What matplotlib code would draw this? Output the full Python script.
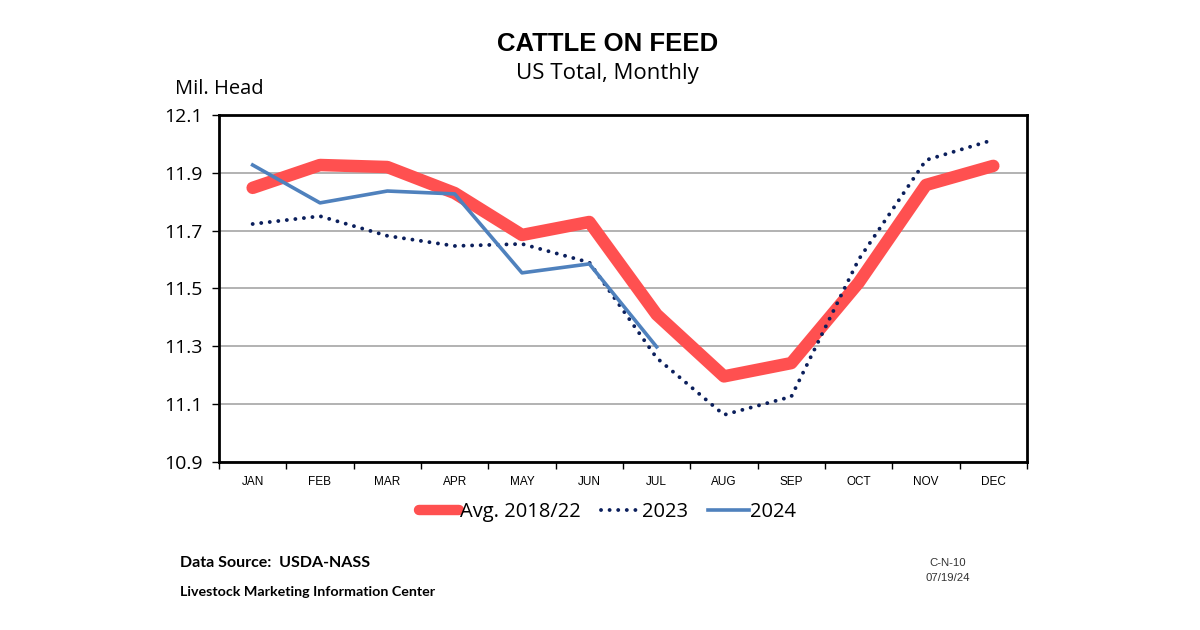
import matplotlib.pyplot as plt
import numpy as np

months = ["JAN", "FEB", "MAR", "APR", "MAY", "JUN",
          "JUL", "AUG", "SEP", "OCT", "NOV", "DEC"]
avg_1822 = [11.848, 11.927, 11.92, 11.83, 11.685, 11.73,
            11.41, 11.196, 11.242, 11.52, 11.858, 11.924]
y2023 = [11.723, 11.75, 11.682, 11.647, 11.654, 11.59,
         11.26, 11.063, 11.126, 11.6, 11.944, 12.014]
y2024 = [11.927, 11.796, 11.837, 11.827, 11.554, 11.585, 11.298]
yticks = [10.9, 11.1, 11.3, 11.5, 11.7, 11.9, 12.1]

plt.rcParams['font.family'] = ['Liberation Sans', 'DejaVu Sans']
sans = ['Open Sans', 'DejaVu Sans']

fig = plt.figure(figsize=(12, 6.3), dpi=100)
ax = fig.add_axes([0.1825, 0.2667, 0.6733, 0.5508])

x = np.arange(len(months))
ax.plot(x, avg_1822, color="#FF5050", lw=9, solid_capstyle="round",
        solid_joinstyle="round", label="Avg. 2018/22", zorder=3)
ax.plot(x, y2023, color="#0B1F5C", lw=2.8, linestyle=(0, (0.01, 2.2)),
        dash_capstyle="round", label="2023", zorder=4)
ax.plot(x[:len(y2024)], y2024, color="#4F81BD", lw=2.6, label="2024", zorder=5)

ax.set_xlim(-0.5, 11.5)
ax.set_ylim(10.9, 12.1)
ax.set_yticks(yticks)
ax.set_yticklabels([f"{v:.1f}" for v in yticks], fontsize=14, family=sans)
ax.set_xticks(x)
ax.set_xticklabels(months, fontsize=8.5)
ax.set_xticks(np.arange(-0.5, 12, 1), minor=True)
ax.tick_params(axis="x", which="major", length=0, pad=10)
ax.tick_params(axis="x", which="minor", length=5, width=1, direction="out")
ax.tick_params(axis="y", length=5, width=1, direction="out", pad=7)
ax.grid(axis="y", color="#A6A6A6", lw=1.2, zorder=0)
for s in ax.spines.values():
    s.set_linewidth(2)
    s.set_color("black")

fig.text(0.506, 0.93, "CATTLE ON FEED", ha="center", va="center",
         fontsize=18.5, fontweight="bold")
fig.text(0.506, 0.884, "US Total, Monthly", ha="center", va="center",
         fontsize=16, family=sans)
fig.text(0.1455, 0.858, "Mil. Head", ha="left", va="center",
         fontsize=14.5, family=sans)

leg = fig.legend(loc="center", bbox_to_anchor=(0.506, 0.187), ncol=3,
                 frameon=False, handlelength=2.0, handletextpad=0.05,
                 columnspacing=1.0, prop={'family': sans, 'size': 14.5})
leg.get_lines()[0].set_linewidth(7.5)

fig.text(0.15, 0.106, "Data Source:  USDA-NASS", fontsize=11.5,
         fontweight="bold", ha="left", va="center", family=['Lato', 'DejaVu Sans'])
fig.text(0.15, 0.06, "Livestock Marketing Information Center", fontsize=10.3,
         fontweight="bold", ha="left", va="center", family=['Lato', 'DejaVu Sans'])
fig.text(0.79, 0.106, "C-N-10", fontsize=8.2, ha="center", va="center", color="#333333")
fig.text(0.79, 0.082, "07/19/24", fontsize=8.2, ha="center", va="center", color="#333333")

fig.savefig("out.png", dpi=100, facecolor="white")
